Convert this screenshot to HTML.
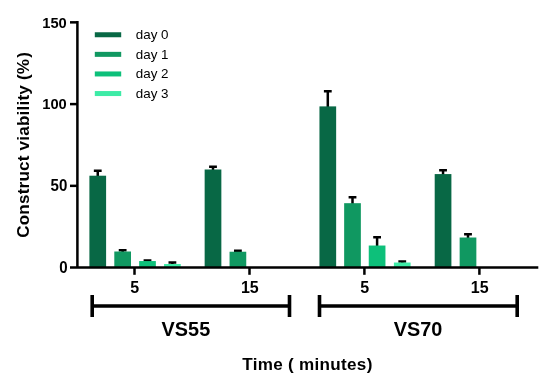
<!DOCTYPE html>
<html lang="en"><head><meta charset="utf-8"><title>Construct viability</title>
<style>html,body{margin:0;padding:0;background:#fff}body{width:550px;height:387px;overflow:hidden}</style></head>
<body>
<svg width="550" height="387" viewBox="0 0 550 387" style="display:block">
<rect width="550" height="387" fill="#fff"/>
<path d="M97.75 176.71V170.81M93.85 170.81H101.65" stroke="#000" stroke-width="2.5" fill="none"/>
<path d="M122.65 252.50V250.27M118.75 250.27H126.55" stroke="#000" stroke-width="2.5" fill="none"/>
<path d="M147.50 262.06V260.41M143.60 260.41H151.40" stroke="#000" stroke-width="2.5" fill="none"/>
<path d="M172.40 265.00V262.53M168.50 262.53H176.30" stroke="#000" stroke-width="2.5" fill="none"/>
<path d="M213.00 170.50V166.64M209.10 166.64H216.90" stroke="#000" stroke-width="2.5" fill="none"/>
<path d="M237.90 252.74V250.76M234.00 250.76H241.80" stroke="#000" stroke-width="2.5" fill="none"/>
<path d="M327.80 107.39V91.35M323.90 91.35H331.70" stroke="#000" stroke-width="2.5" fill="none"/>
<path d="M352.50 204.18V197.30M348.60 197.30H356.40" stroke="#000" stroke-width="2.5" fill="none"/>
<path d="M377.10 246.53V237.35M373.20 237.35H381.00" stroke="#000" stroke-width="2.5" fill="none"/>
<path d="M402.25 263.53V261.39M398.35 261.39H406.15" stroke="#000" stroke-width="2.5" fill="none"/>
<path d="M443.05 175.08V170.24M439.15 170.24H446.95" stroke="#000" stroke-width="2.5" fill="none"/>
<path d="M468.00 238.52V234.25M464.10 234.25H471.90" stroke="#000" stroke-width="2.5" fill="none"/>
<rect x="89.40" y="175.71" width="16.7" height="91.89" fill="#086845"/>
<rect x="114.30" y="251.50" width="16.7" height="16.10" fill="#109861"/>
<rect x="139.15" y="261.06" width="16.7" height="6.54" fill="#0dc07a"/>
<rect x="164.05" y="264.00" width="16.7" height="3.60" fill="#3deba6"/>
<rect x="204.65" y="169.50" width="16.7" height="98.10" fill="#086845"/>
<rect x="229.55" y="251.74" width="16.7" height="15.86" fill="#109861"/>
<rect x="319.45" y="106.39" width="16.7" height="161.21" fill="#086845"/>
<rect x="344.15" y="203.18" width="16.7" height="64.42" fill="#109861"/>
<rect x="368.75" y="245.53" width="16.7" height="22.07" fill="#0dc07a"/>
<rect x="393.90" y="262.53" width="16.7" height="5.07" fill="#3deba6"/>
<rect x="434.70" y="174.08" width="16.7" height="93.52" fill="#086845"/>
<rect x="459.65" y="237.52" width="16.7" height="30.08" fill="#109861"/>
<path d="M77.4 21.1V268.6M70 267.6H538.3" stroke="#000" stroke-width="2.5" fill="none"/>
<path d="M70 185.85H77.4" stroke="#000" stroke-width="2.5"/>
<path d="M70 104.10H77.4" stroke="#000" stroke-width="2.5"/>
<path d="M70 22.35H77.4" stroke="#000" stroke-width="2.5"/>
<path d="M134.5 267.6V274.8" stroke="#000" stroke-width="2.5"/>
<path d="M249.5 267.6V274.8" stroke="#000" stroke-width="2.5"/>
<path d="M364.4 267.6V274.8" stroke="#000" stroke-width="2.5"/>
<path d="M479.4 267.6V274.8" stroke="#000" stroke-width="2.5"/>
<text transform="translate(67.7 273.00) scale(0.968 1)" text-anchor="end" style="font-family:'Liberation Sans',sans-serif;font-weight:bold;font-size:15.6px;font-size:15.6px">0</text>
<text transform="translate(67.4 191.25) scale(0.968 1)" text-anchor="end" style="font-family:'Liberation Sans',sans-serif;font-weight:bold;font-size:15.6px;font-size:15.6px">50</text>
<text transform="translate(66.8 109.35) scale(0.968 1)" text-anchor="end" style="font-family:'Liberation Sans',sans-serif;font-weight:bold;font-size:15.6px;font-size:15.2px">100</text>
<text transform="translate(66.8 27.60) scale(0.968 1)" text-anchor="end" style="font-family:'Liberation Sans',sans-serif;font-weight:bold;font-size:15.6px;font-size:15.2px">150</text>
<text x="134.8" y="292.85" text-anchor="middle" style="font-family:'Liberation Sans',sans-serif;font-weight:bold;font-size:16px">5</text>
<text x="249.8" y="292.85" text-anchor="middle" style="font-family:'Liberation Sans',sans-serif;font-weight:bold;font-size:16px">15</text>
<text x="364.7" y="292.85" text-anchor="middle" style="font-family:'Liberation Sans',sans-serif;font-weight:bold;font-size:16px">5</text>
<text x="479.7" y="292.85" text-anchor="middle" style="font-family:'Liberation Sans',sans-serif;font-weight:bold;font-size:16px">15</text>
<path d="M92.2 306H289.5M92.2 295V317M289.5 295V317" stroke="#000" stroke-width="3.6" fill="none"/>
<path d="M319.5 306H517.2M319.5 295V317M517.2 295V317" stroke="#000" stroke-width="3.6" fill="none"/>
<text transform="translate(185.9 336.1) scale(0.955 1)" text-anchor="middle" style="font-family:'Liberation Sans',sans-serif;font-weight:bold;font-size:20.8px">VS55</text>
<text transform="translate(418.1 336.1) scale(0.955 1)" text-anchor="middle" style="font-family:'Liberation Sans',sans-serif;font-weight:bold;font-size:20.8px">VS70</text>
<text transform="translate(242.3 370.4) scale(1.055 1)" style="font-family:'Liberation Sans',sans-serif;font-weight:bold;font-size:16.2px;letter-spacing:0.28px">Time ( minutes)</text>
<text transform="translate(29.3 237.8) rotate(-90) scale(1.055 1)" style="font-family:'Liberation Sans',sans-serif;font-weight:bold;font-size:16.2px;letter-spacing:0.28px;letter-spacing:0.19px">Construct viability (%<tspan dx="0.95">)</tspan></text>
<rect x="94.8" y="32.25" width="26.4" height="5" fill="#086845"/>
<text transform="translate(135.8 38.95) scale(0.985 1)" style="font-family:'Liberation Sans',sans-serif;font-size:13.6px">day 0</text>
<rect x="94.8" y="51.85" width="26.4" height="5" fill="#109861"/>
<text transform="translate(135.8 58.55) scale(0.985 1)" style="font-family:'Liberation Sans',sans-serif;font-size:13.6px">day 1</text>
<rect x="94.8" y="71.45" width="26.4" height="5" fill="#0dc07a"/>
<text transform="translate(135.8 78.15) scale(0.985 1)" style="font-family:'Liberation Sans',sans-serif;font-size:13.6px">day 2</text>
<rect x="94.8" y="91.05" width="26.4" height="5" fill="#3deba6"/>
<text transform="translate(135.8 97.75) scale(0.985 1)" style="font-family:'Liberation Sans',sans-serif;font-size:13.6px">day 3</text>
</svg>
</body></html>
